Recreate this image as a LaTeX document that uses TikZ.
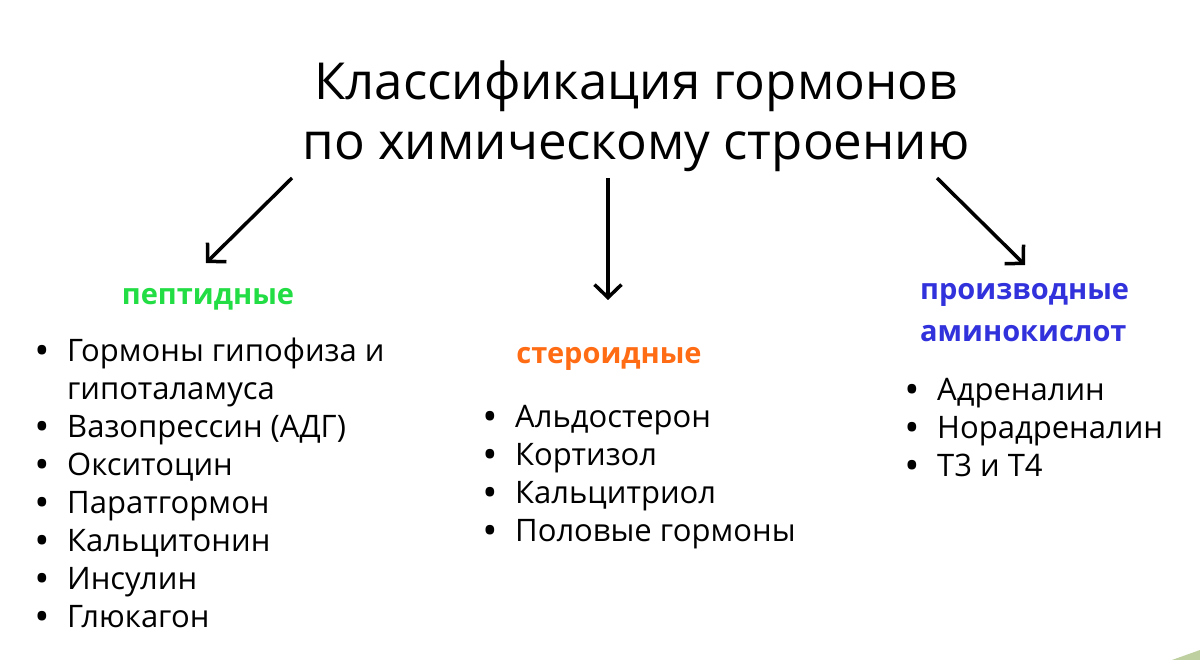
\documentclass[tikz,border=0pt]{standalone}
\usepackage{fontspec}
\setmainfont{Open Sans}
\usetikzlibrary{arrows.meta}

\definecolor{peptgreen}{RGB}{34,221,68}
\definecolor{sterorange}{RGB}{255,108,20}
\definecolor{aminblue}{RGB}{50,50,220}
\definecolor{leafgreen}{RGB}{190,208,160}

% bullet list as a two column table, baseline on the first row
\newcommand{\bul}{\makebox[31pt][l]{\textbf{•}}}
\newcommand{\hlist}[1]{\begin{tabular}[t]{@{}l@{}l@{}}#1\end{tabular}}

\begin{document}
\begin{tikzpicture}[x=1pt, y=-1pt,
  head/.style={font=\fontsize{29}{42}\selectfont\bfseries, inner sep=0pt},
  items/.style={font=\fontsize{31}{38}\selectfont, inner sep=0pt, anchor=base west},
  arr/.style={line width=3.5pt, -{Straight Barb[length=13pt,width=27pt]}}]
		\useasboundingbox (0,0) rectangle (1200,660);
		\fill[white] (0,0) rectangle (1200,660);

		% Title
		\node[font=\fontsize{51}{60}\selectfont, inner sep=0pt, anchor=base] (title) at (636,100)
			{\begin{tabular}[t]{@{}c@{}}Классификация гормонов\\по химическому строению\end{tabular}};

		% Group headings
		\node[head, text=peptgreen, anchor=base] (pept) at (208,305) {пептидные};
		\node[head, text=sterorange, anchor=base] (ster) at (609,363) {стероидные};
		\node[head, text=aminblue, anchor=base west] (amin) at (920,300)
			{\begin{tabular}[t]{@{}l@{}}производные\\аминокислот\end{tabular}};

		% Lists
		\node[items] (peplist) at (36,362) {\hlist{\bul&Гормоны гипофиза и\\
			&гипоталамуса\\
			\bul&Вазопрессин (АДГ)\\
			\bul&Окситоцин\\
			\bul&Паратгормон\\
			\bul&Кальцитонин\\
			\bul&Инсулин\\
			\bul&Глюкагон}};
		\node[items] (sterlist) at (484,428) {\hlist{\bul&Альдостерон\\
			\bul&Кортизол\\
			\bul&Кальцитриол\\
			\bul&Половые гормоны}};
		\node[items] (aminlist) at (906,400) {\hlist{\bul&Адреналин\\
			\bul&Норадреналин\\
			\bul&Т3 и Т4}};

		% Arrows from the title
		\coordinate (pepfrom) at (292,178);
		\coordinate (pepto) at (206,263);
		\coordinate (sterfrom) at (608,178);
		\coordinate (sterto) at (608,300);
		\coordinate (aminfrom) at (937,178);
		\coordinate (aminto) at (1025,265);
		\draw[arr] (pepfrom) -- (pepto);
		\draw[arr] (sterfrom) -- (sterto);
		\draw[arr] (aminfrom) -- (aminto);

		% Corner leaf
		\fill[leafgreen] (1172,660) -- (1200,650) -- (1200,660) -- cycle;

	\end{tikzpicture}
\end{document}
